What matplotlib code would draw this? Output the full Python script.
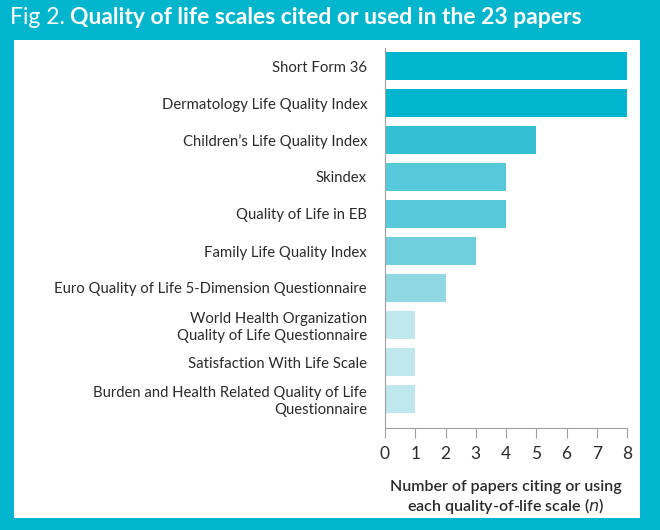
import matplotlib
matplotlib.use("Agg")
import matplotlib.pyplot as plt
from matplotlib.patches import Rectangle

categories = [
    "Short Form 36",
    "Dermatology Life Quality Index",
    "Children\u2019s Life Quality Index",
    "Skindex",
    "Quality of Life in EB",
    "Family Life Quality Index",
    "Euro Quality of Life 5-Dimension Questionnaire",
    "World Health Organization\nQuality of Life Questionnaire",
    "Satisfaction With Life Scale",
    "Burden and Health Related Quality of Life\nQuestionnaire",
]
values = [8, 8, 5, 4, 4, 3, 2, 1, 1, 1]
xticks = [0, 1, 2, 3, 4, 5, 6, 7, 8]

shade = {8: "#00B5CC", 5: "#33C0D4", 4: "#55C9DA", 3: "#6ECFDE", 2: "#90D8E4", 1: "#BEE7EE"}
TEAL = "#00B5CC"
TXT = "#2b2b2b"
FONT = "Lato"

W, H = 660, 530
fig = plt.figure(figsize=(W / 100, H / 100), dpi=100)
fig.patch.set_facecolor(TEAL)
fig.patches.append(Rectangle((14 / W, 1 - 518 / H), (640 - 14) / W, (518 - 40) / H,
                             transform=fig.transFigure, facecolor="white", edgecolor="none", zorder=-10))

fig.text(10 / W, 1 - 18 / H, "Fig 2.", color="white", fontsize=16.5, fontfamily=FONT,
         fontweight="normal", va="center", ha="left")
fig.text(70 / W, 1 - 18 / H, "Quality of life scales cited or used in the 23 papers", color="white",
         fontsize=16.5, fontfamily=FONT, fontweight="bold", va="center", ha="left")

ax = fig.add_axes([385 / W, 1 - 428 / H, (627 - 385) / W, (428 - 47.5) / H])
ax.set_zorder(5)
ax.set_facecolor("none")
pos = list(range(len(categories)))
ax.barh(pos, values, height=0.76, color=[shade[v] for v in values], zorder=2)
ax.set_ylim(9 + 29 / 37, -0.5)
ax.set_xlim(0, 8)
ax.set_yticks(pos)
ax.set_yticklabels(categories, fontsize=10.7, fontfamily=FONT, color=TXT, ha="right", linespacing=1.2)
ax.tick_params(axis="y", length=0, pad=13)
ax.set_xticks(xticks)
ax.set_xticklabels([str(t) for t in xticks], fontsize=12.5, fontfamily=FONT, color=TXT)
ax.tick_params(axis="x", length=7, width=0.8, color="#a0a0a0", pad=6)
for s in ["top", "right"]:
    ax.spines[s].set_visible(False)
for s in ["left", "bottom"]:
    ax.spines[s].set_color("#a0a0a0")
    ax.spines[s].set_linewidth(0.8)
ax.set_xlabel("Number of papers citing or using\neach quality-of-life scale ($n$)", fontsize=11.5,
              fontfamily=FONT, fontweight="semibold", color=TXT, labelpad=13, linespacing=1.1)

fig.savefig("out.png", dpi=100, facecolor=TEAL)
